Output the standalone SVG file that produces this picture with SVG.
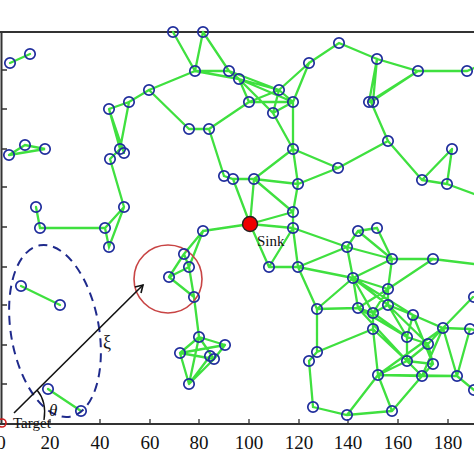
<svg xmlns="http://www.w3.org/2000/svg" width="474" height="474" viewBox="0 0 474 474">
<style>
.e{stroke:#3fe03f;stroke-width:2.3;fill:none;stroke-linecap:round}
.n{fill:none;stroke:#1f2d9c;stroke-width:1.7}
.ax{stroke:#333;stroke-width:2;fill:none}
.tk{stroke:#333;stroke-width:1.3}
.lb{font-family:"Liberation Serif",serif;font-size:19px;fill:#111;text-anchor:middle}
.tx{font-family:"Liberation Serif",serif;fill:#111}
</style>
<rect width="474" height="474" fill="#fff"/>
<g id="axes">
<line class="ax" x1="0" y1="32" x2="474" y2="32"/>
<line class="ax" x1="1.5" y1="32" x2="1.5" y2="424"/>
<line class="ax" x1="0" y1="424" x2="474" y2="424"/>
<path class="tk" d="M2 70h5M2 109h5M2 149h5M2 187h5M2 227h5M2 267h5M2 305h5M2 345h5M2 384h5"/>
<path class="tk" d="M50 424v-5M100 424v-5M150 424v-5M199 424v-5M249 424v-5M299 424v-5M348 424v-5M398 424v-5M448 424v-5"/>
<text class="lb" x="1" y="449">0</text>
<text class="lb" x="50" y="449">20</text>
<text class="lb" x="100" y="449">40</text>
<text class="lb" x="150" y="449">60</text>
<text class="lb" x="199" y="449">80</text>
<text class="lb" x="249" y="449">100</text>
<text class="lb" x="299" y="449">120</text>
<text class="lb" x="348" y="449">140</text>
<text class="lb" x="398" y="449">160</text>
<text class="lb" x="448" y="449">180</text>
</g>
<g id="connectors">
<path class="e" d="M10 63L30 54M9 155L25 145L45 149L9 155M109 109L129 102L149 90M109 109L120 149M109 109L124 153M129 102L120 149M120 149L110 159M110 159L124 207M36 207L40 228L105 228L124 207L109 247L105 228M21 286L60 305M48 389L81 411"/>
<path class="e" d="M149 90L195 71M149 90L189 129M173 32L195 71M203 32L195 71M203 32L229 71M195 71L229 71M195 71L239 79M229 71L239 79M229 71L279 90M239 79L279 90M239 79L293 102M239 79L249 102M239 79L273 113M249 102L279 90M249 102L293 102M279 90L293 102M279 90L273 113M273 113L293 102M279 90L309 63M309 63L293 102M293 102L293 149M273 113L293 149M249 102L209 129M189 129L209 129M209 129L224 176"/>
<path class="e" d="M309 63L339 43L377 59L418 71L467 71L474 68M377 59L369 102M377 59L373 102M418 71L371 102M418 71L369 102M371 102L388 141M388 141L338 168M388 141L422 180M452 149L422 180M452 149L447 184M422 180L447 184M447 184L474 194M293 149L338 168M298 184L338 168"/>
<path class="e" d="M224 176L233 179L254 179M233 179L250 224M254 179L250 224M254 179L298 184M254 179L293 212M254 179L293 149M298 184L293 149M298 184L293 212M250 224L293 212M250 224L293 228M293 212L293 228M250 224L203 231M250 224L269 267M293 228L269 267M293 228L298 267M269 267L298 267M293 228L347 247M298 267L347 247M298 267L353 278M298 267L317 309"/>
<path class="e" d="M203 231L184 254M203 231L189 267M184 254L189 267M184 254L169 277M189 267L169 277M169 277L194 297M189 267L194 297M194 297L199 337M199 337L180 353M199 337L225 345M199 337L214 359M180 353L225 345M180 353L214 359M180 353L189 384M189 384L214 359M189 384L210 356M225 345L214 359M199 337L189 384"/>
<path class="e" d="M358 231L377 228M358 231L347 247M377 228L392 259M358 231L392 259M347 247L392 259M347 247L353 278M392 259L433 259L474 264M392 259L388 289M392 259L353 278M433 259L388 289M353 278L388 289M353 278L358 308M353 278L388 305M353 278L373 313M353 278L413 315M388 289L388 305M388 289L373 313M388 289L358 308M353 278L317 309M317 309L358 308M358 308L373 313L388 305L413 315M373 313L373 329M358 308L407 337M388 305L428 344M413 315L443 328L470 329L474 330M413 315L407 337M373 313L407 337M407 337L428 344L443 328M407 337L407 361M428 344L407 361M428 344L433 364M407 361L433 364M407 361L378 375M373 329L378 375M373 329L407 361M373 329L317 352M317 309L317 352M317 352L309 361M309 361L313 407M313 407L347 415L392 411M378 375L347 415M378 375L392 411M422 376L392 411M378 375L422 376L457 376L474 390M433 364L422 376M407 361L422 376M443 328L422 376M443 328L457 376M470 329L457 376M473 297L443 328M378 375L443 328M358 308L407 361M388 305L407 337M413 315L433 364M378 375L457 376"/>
</g>
<g id="ellipse"><ellipse cx="55" cy="331" rx="44" ry="87" transform="rotate(-10 55 331)" fill="none" stroke="#1f2a8c" stroke-width="2" stroke-dasharray="9 6"/></g>
<g id="range"><circle cx="168" cy="279" r="34" fill="none" stroke="#c84444" stroke-width="1.6"/></g>
<g id="arrow">
<line x1="14" y1="413" x2="143" y2="285" stroke="#111" stroke-width="1.6"/>
<path d="M135 287L143 285L141 293" fill="none" stroke="#111" stroke-width="1.6"/>
<path d="M37 390Q47 402 44 420" fill="none" stroke="#111" stroke-width="1.4"/>
<text class="tx" x="49" y="416" font-size="17" font-style="italic">θ</text>
<text class="tx" x="103" y="348" font-size="18">ξ</text>
</g>
<g id="target"><circle cx="2" cy="423" r="4" fill="none" stroke="#d02020" stroke-width="1.6"/><text class="tx" x="13" y="428" font-size="15">Target</text></g>
<g id="sink"><circle cx="250" cy="224" r="7.5" fill="#ee0000" stroke="#222" stroke-width="1.4"/><text class="tx" x="257" y="246" font-size="15">Sink</text></g>
<g id="nodes">
<g id="n1"><circle class="n" cx="10" cy="63" r="5.2"/></g>
<g id="n2"><circle class="n" cx="30" cy="54" r="5.2"/></g>
<g id="n3"><circle class="n" cx="9" cy="155" r="5.2"/></g>
<g id="n4"><circle class="n" cx="25" cy="145" r="5.2"/></g>
<g id="n5"><circle class="n" cx="45" cy="149" r="5.2"/></g>
<g id="n6"><circle class="n" cx="109" cy="109" r="5.2"/></g>
<g id="n7"><circle class="n" cx="129" cy="102" r="5.2"/></g>
<g id="n8"><circle class="n" cx="149" cy="90" r="5.2"/></g>
<g id="n9"><circle class="n" cx="120" cy="149" r="5.2"/></g>
<g id="n10"><circle class="n" cx="124" cy="153" r="5.2"/></g>
<g id="n11"><circle class="n" cx="110" cy="159" r="5.2"/></g>
<g id="n12"><circle class="n" cx="36" cy="207" r="5.2"/></g>
<g id="n13"><circle class="n" cx="40" cy="228" r="5.2"/></g>
<g id="n14"><circle class="n" cx="105" cy="228" r="5.2"/></g>
<g id="n15"><circle class="n" cx="124" cy="207" r="5.2"/></g>
<g id="n16"><circle class="n" cx="109" cy="247" r="5.2"/></g>
<g id="n17"><circle class="n" cx="21" cy="286" r="5.2"/></g>
<g id="n18"><circle class="n" cx="60" cy="305" r="5.2"/></g>
<g id="n19"><circle class="n" cx="48" cy="389" r="5.2"/></g>
<g id="n20"><circle class="n" cx="81" cy="411" r="5.2"/></g>
<g id="n21"><circle class="n" cx="173" cy="32" r="5.2"/></g>
<g id="n22"><circle class="n" cx="203" cy="32" r="5.2"/></g>
<g id="n23"><circle class="n" cx="195" cy="71" r="5.2"/></g>
<g id="n24"><circle class="n" cx="229" cy="71" r="5.2"/></g>
<g id="n25"><circle class="n" cx="239" cy="79" r="5.2"/></g>
<g id="n26"><circle class="n" cx="279" cy="90" r="5.2"/></g>
<g id="n27"><circle class="n" cx="293" cy="102" r="5.2"/></g>
<g id="n28"><circle class="n" cx="249" cy="102" r="5.2"/></g>
<g id="n29"><circle class="n" cx="273" cy="113" r="5.2"/></g>
<g id="n30"><circle class="n" cx="309" cy="63" r="5.2"/></g>
<g id="n31"><circle class="n" cx="189" cy="129" r="5.2"/></g>
<g id="n32"><circle class="n" cx="209" cy="129" r="5.2"/></g>
<g id="n33"><circle class="n" cx="293" cy="149" r="5.2"/></g>
<g id="n34"><circle class="n" cx="339" cy="43" r="5.2"/></g>
<g id="n35"><circle class="n" cx="377" cy="59" r="5.2"/></g>
<g id="n36"><circle class="n" cx="418" cy="71" r="5.2"/></g>
<g id="n37"><circle class="n" cx="467" cy="71" r="5.2"/></g>
<g id="n38"><circle class="n" cx="369" cy="102" r="5.2"/></g>
<g id="n39"><circle class="n" cx="373" cy="102" r="5.2"/></g>
<g id="n40"><circle class="n" cx="388" cy="141" r="5.2"/></g>
<g id="n41"><circle class="n" cx="452" cy="149" r="5.2"/></g>
<g id="n42"><circle class="n" cx="338" cy="168" r="5.2"/></g>
<g id="n43"><circle class="n" cx="422" cy="180" r="5.2"/></g>
<g id="n44"><circle class="n" cx="447" cy="184" r="5.2"/></g>
<g id="n45"><circle class="n" cx="224" cy="176" r="5.2"/></g>
<g id="n46"><circle class="n" cx="233" cy="179" r="5.2"/></g>
<g id="n47"><circle class="n" cx="254" cy="179" r="5.2"/></g>
<g id="n48"><circle class="n" cx="298" cy="184" r="5.2"/></g>
<g id="n49"><circle class="n" cx="293" cy="212" r="5.2"/></g>
<g id="n50"><circle class="n" cx="293" cy="228" r="5.2"/></g>
<g id="n51"><circle class="n" cx="203" cy="231" r="5.2"/></g>
<g id="n52"><circle class="n" cx="269" cy="267" r="5.2"/></g>
<g id="n53"><circle class="n" cx="298" cy="267" r="5.2"/></g>
<g id="n54"><circle class="n" cx="184" cy="254" r="5.2"/></g>
<g id="n55"><circle class="n" cx="189" cy="267" r="5.2"/></g>
<g id="n56"><circle class="n" cx="169" cy="277" r="5.2"/></g>
<g id="n57"><circle class="n" cx="194" cy="297" r="5.2"/></g>
<g id="n58"><circle class="n" cx="199" cy="337" r="5.2"/></g>
<g id="n59"><circle class="n" cx="180" cy="353" r="5.2"/></g>
<g id="n60"><circle class="n" cx="225" cy="345" r="5.2"/></g>
<g id="n61"><circle class="n" cx="214" cy="359" r="5.2"/></g>
<g id="n62"><circle class="n" cx="210" cy="356" r="5.2"/></g>
<g id="n63"><circle class="n" cx="189" cy="384" r="5.2"/></g>
<g id="n64"><circle class="n" cx="358" cy="231" r="5.2"/></g>
<g id="n65"><circle class="n" cx="377" cy="228" r="5.2"/></g>
<g id="n66"><circle class="n" cx="347" cy="247" r="5.2"/></g>
<g id="n67"><circle class="n" cx="392" cy="259" r="5.2"/></g>
<g id="n68"><circle class="n" cx="433" cy="259" r="5.2"/></g>
<g id="n69"><circle class="n" cx="353" cy="278" r="5.2"/></g>
<g id="n70"><circle class="n" cx="388" cy="289" r="5.2"/></g>
<g id="n71"><circle class="n" cx="358" cy="308" r="5.2"/></g>
<g id="n72"><circle class="n" cx="388" cy="305" r="5.2"/></g>
<g id="n73"><circle class="n" cx="413" cy="315" r="5.2"/></g>
<g id="n74"><circle class="n" cx="373" cy="313" r="5.2"/></g>
<g id="n75"><circle class="n" cx="317" cy="309" r="5.2"/></g>
<g id="n76"><circle class="n" cx="373" cy="329" r="5.2"/></g>
<g id="n77"><circle class="n" cx="443" cy="328" r="5.2"/></g>
<g id="n78"><circle class="n" cx="470" cy="329" r="5.2"/></g>
<g id="n79"><circle class="n" cx="407" cy="337" r="5.2"/></g>
<g id="n80"><circle class="n" cx="428" cy="344" r="5.2"/></g>
<g id="n81"><circle class="n" cx="407" cy="361" r="5.2"/></g>
<g id="n82"><circle class="n" cx="433" cy="364" r="5.2"/></g>
<g id="n83"><circle class="n" cx="378" cy="375" r="5.2"/></g>
<g id="n84"><circle class="n" cx="422" cy="376" r="5.2"/></g>
<g id="n85"><circle class="n" cx="457" cy="376" r="5.2"/></g>
<g id="n86"><circle class="n" cx="317" cy="352" r="5.2"/></g>
<g id="n87"><circle class="n" cx="309" cy="361" r="5.2"/></g>
<g id="n88"><circle class="n" cx="313" cy="407" r="5.2"/></g>
<g id="n89"><circle class="n" cx="347" cy="415" r="5.2"/></g>
<g id="n90"><circle class="n" cx="392" cy="411" r="5.2"/></g>
<g id="n91"><circle class="n" cx="474" cy="297" r="5.2"/></g>
<g id="n92"><circle class="n" cx="474" cy="390" r="5.2"/></g>
</g>
</svg>
